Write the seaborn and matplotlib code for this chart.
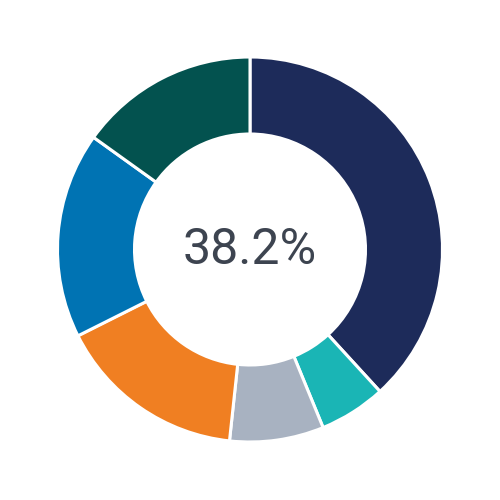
import matplotlib
matplotlib.use("Agg")
import matplotlib.pyplot as plt
import seaborn as sns

categories = ["A", "B", "C", "D", "E", "F"]
values = [38.2, 5.6, 7.9, 15.9, 17.3, 15.1]
colors = ["#1d2b5a", "#1ab5b5", "#a8b2c1", "#f07f22", "#0073b3", "#03524f"]
center_label = "38.2%"

sns.set_theme(style="white")
plt.rcParams['font.family'] = ['Roboto', 'DejaVu Sans']

fig = plt.figure(figsize=(5, 5), dpi=100)
r = 192.5 / 500
ax = fig.add_axes([0.5 - r, 0.5 - r + 0.001, 2 * r, 2 * r])
ax.pie(values, colors=colors, startangle=90, counterclock=False,
       radius=1, wedgeprops=dict(width=0.40, edgecolor="white", linewidth=2.2))
ax.set_xlim(-1, 1)
ax.set_ylim(-1, 1)
ax.set_aspect("equal")
ax.axis("off")
ax.text(0, 0, center_label, ha="center", va="center", fontsize=36,
        color="#3d4450")
fig.savefig("out.png", dpi=100)
